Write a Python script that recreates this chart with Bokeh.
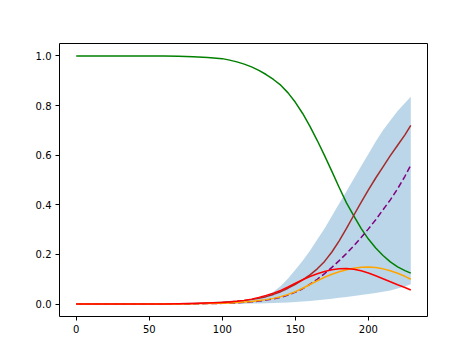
from bokeh.plotting import figure
from bokeh.models import Range1d, FixedTicker, PrintfTickFormatter, ColumnDataSource
from bokeh.embed import file_html
from bokeh.resources import INLINE

# ---- data ----
days = [0, 10, 20, 30, 40, 50, 60, 70, 80, 90,
        100, 105, 110, 115, 120, 125, 130, 135, 140, 145,
        150, 155, 160, 165, 170, 175, 180, 185, 190, 195,
        200, 205, 210, 215, 220, 225, 229]

susceptible = [1.0, 1.0, 1.0, 1.0, 1.0, 1.0, 1.0, 0.999, 0.997, 0.994,
               0.989, 0.983, 0.976, 0.967, 0.956, 0.942, 0.925, 0.905, 0.882, 0.851,
               0.813, 0.768, 0.716, 0.659, 0.598, 0.535, 0.47, 0.408, 0.355, 0.305,
               0.262, 0.226, 0.196, 0.17, 0.15, 0.135, 0.125]

recovered = [0.0, 0.0, 0.0, 0.0, 0.0, 0.0, 0.0, 0.001, 0.002, 0.004,
             0.007, 0.009, 0.011, 0.014, 0.018, 0.023, 0.03, 0.039, 0.05, 0.064,
             0.08, 0.098, 0.118, 0.142, 0.172, 0.21, 0.255, 0.305, 0.358, 0.41,
             0.46, 0.508, 0.553, 0.598, 0.64, 0.682, 0.72]

deaths = [0.0, 0.0, 0.0, 0.0, 0.0, 0.0, 0.0, 0.0, 0.001, 0.002,
          0.003, 0.004, 0.005, 0.007, 0.009, 0.012, 0.016, 0.021, 0.027, 0.036,
          0.048, 0.062, 0.08, 0.1, 0.123, 0.148, 0.175, 0.204, 0.235, 0.268,
          0.303, 0.34, 0.38, 0.42, 0.465, 0.515, 0.56]

infected = [0.0, 0.0, 0.0, 0.0, 0.0, 0.0, 0.0, 0.001, 0.002, 0.004,
            0.006, 0.008, 0.011, 0.015, 0.02, 0.027, 0.035, 0.044, 0.055, 0.069,
            0.084, 0.098, 0.111, 0.122, 0.131, 0.138, 0.142, 0.143, 0.14, 0.134,
            0.125, 0.114, 0.102, 0.09, 0.078, 0.067, 0.057]

exposed = [0.0, 0.0, 0.0, 0.0, 0.0, 0.0, 0.0, 0.0, 0.001, 0.002,
           0.003, 0.004, 0.006, 0.008, 0.01, 0.014, 0.018, 0.023, 0.03, 0.039,
           0.05, 0.064, 0.079, 0.094, 0.108, 0.12, 0.13, 0.138, 0.144, 0.148,
           0.149, 0.147, 0.142, 0.134, 0.124, 0.112, 0.1]

band_upper = [0.0, 0.0, 0.0, 0.0, 0.0, 0.0, 0.0, 0.0, 0.001, 0.003,
              0.005, 0.006, 0.008, 0.011, 0.015, 0.022, 0.033, 0.05, 0.073, 0.103,
              0.138, 0.175, 0.215, 0.26, 0.305, 0.355, 0.405, 0.455, 0.505, 0.555,
              0.605, 0.655, 0.7, 0.74, 0.778, 0.81, 0.835]

band_lower = [0.0, 0.0, 0.0, 0.0, 0.0, 0.0, 0.0, 0.0, 0.0, 0.0,
              0.0, 0.0, 0.001, 0.001, 0.002, 0.002, 0.003, 0.004, 0.005, 0.006,
              0.008, 0.01, 0.012, 0.015, 0.019, 0.022, 0.026, 0.029, 0.033, 0.037,
              0.041, 0.045, 0.05, 0.055, 0.063, 0.071, 0.08]

x_ticks = [0, 50, 100, 150, 200]
y_ticks = [0.0, 0.2, 0.4, 0.6, 0.8, 1.0]

src = ColumnDataSource(dict(x=days, s=susceptible, r=recovered, d=deaths,
                            i=infected, e=exposed, hi=band_upper, lo=band_lower))

p = figure(width=474, height=355, output_backend="svg", toolbar_location=None,
           x_range=Range1d(-11.45, 240.45), y_range=Range1d(-0.05, 1.05),
           min_border_left=59, min_border_right=47, min_border_top=43,
           min_border_bottom=39)
p.background_fill_color = "white"
p.border_fill_color = "white"
p.outline_line_color = "black"
p.outline_line_width = 1
p.grid.visible = False

p.varea(x="x", y1="lo", y2="hi", source=src, fill_color="#1f77b4", fill_alpha=0.3)
common = dict(source=src, line_width=1.5, line_join="round")
p.line(x="x", y="s", line_color="green", **common)
p.line(x="x", y="r", line_color="brown", **common)
p.line(x="x", y="d", line_color="purple", line_dash="6 3", **common)
p.line(x="x", y="e", line_color="orange", **common)
p.line(x="x", y="i", line_color="red", **common)

for ax in (p.xaxis[0], p.yaxis[0]):
    ax.axis_line_color = None
    ax.major_tick_line_color = "black"
    ax.major_tick_in = 0
    ax.major_tick_out = 4
    ax.minor_tick_line_color = None
    ax.major_label_text_font = "DejaVu Sans"
    ax.major_label_text_font_size = "10px"
    ax.major_label_text_color = "black"
    ax.major_label_standoff = 4

p.xaxis[0].ticker = FixedTicker(ticks=x_ticks)
p.yaxis[0].ticker = FixedTicker(ticks=y_ticks)
p.yaxis[0].formatter = PrintfTickFormatter(format="%.1f")

open("out.html", "w").write(file_html(p, INLINE))
